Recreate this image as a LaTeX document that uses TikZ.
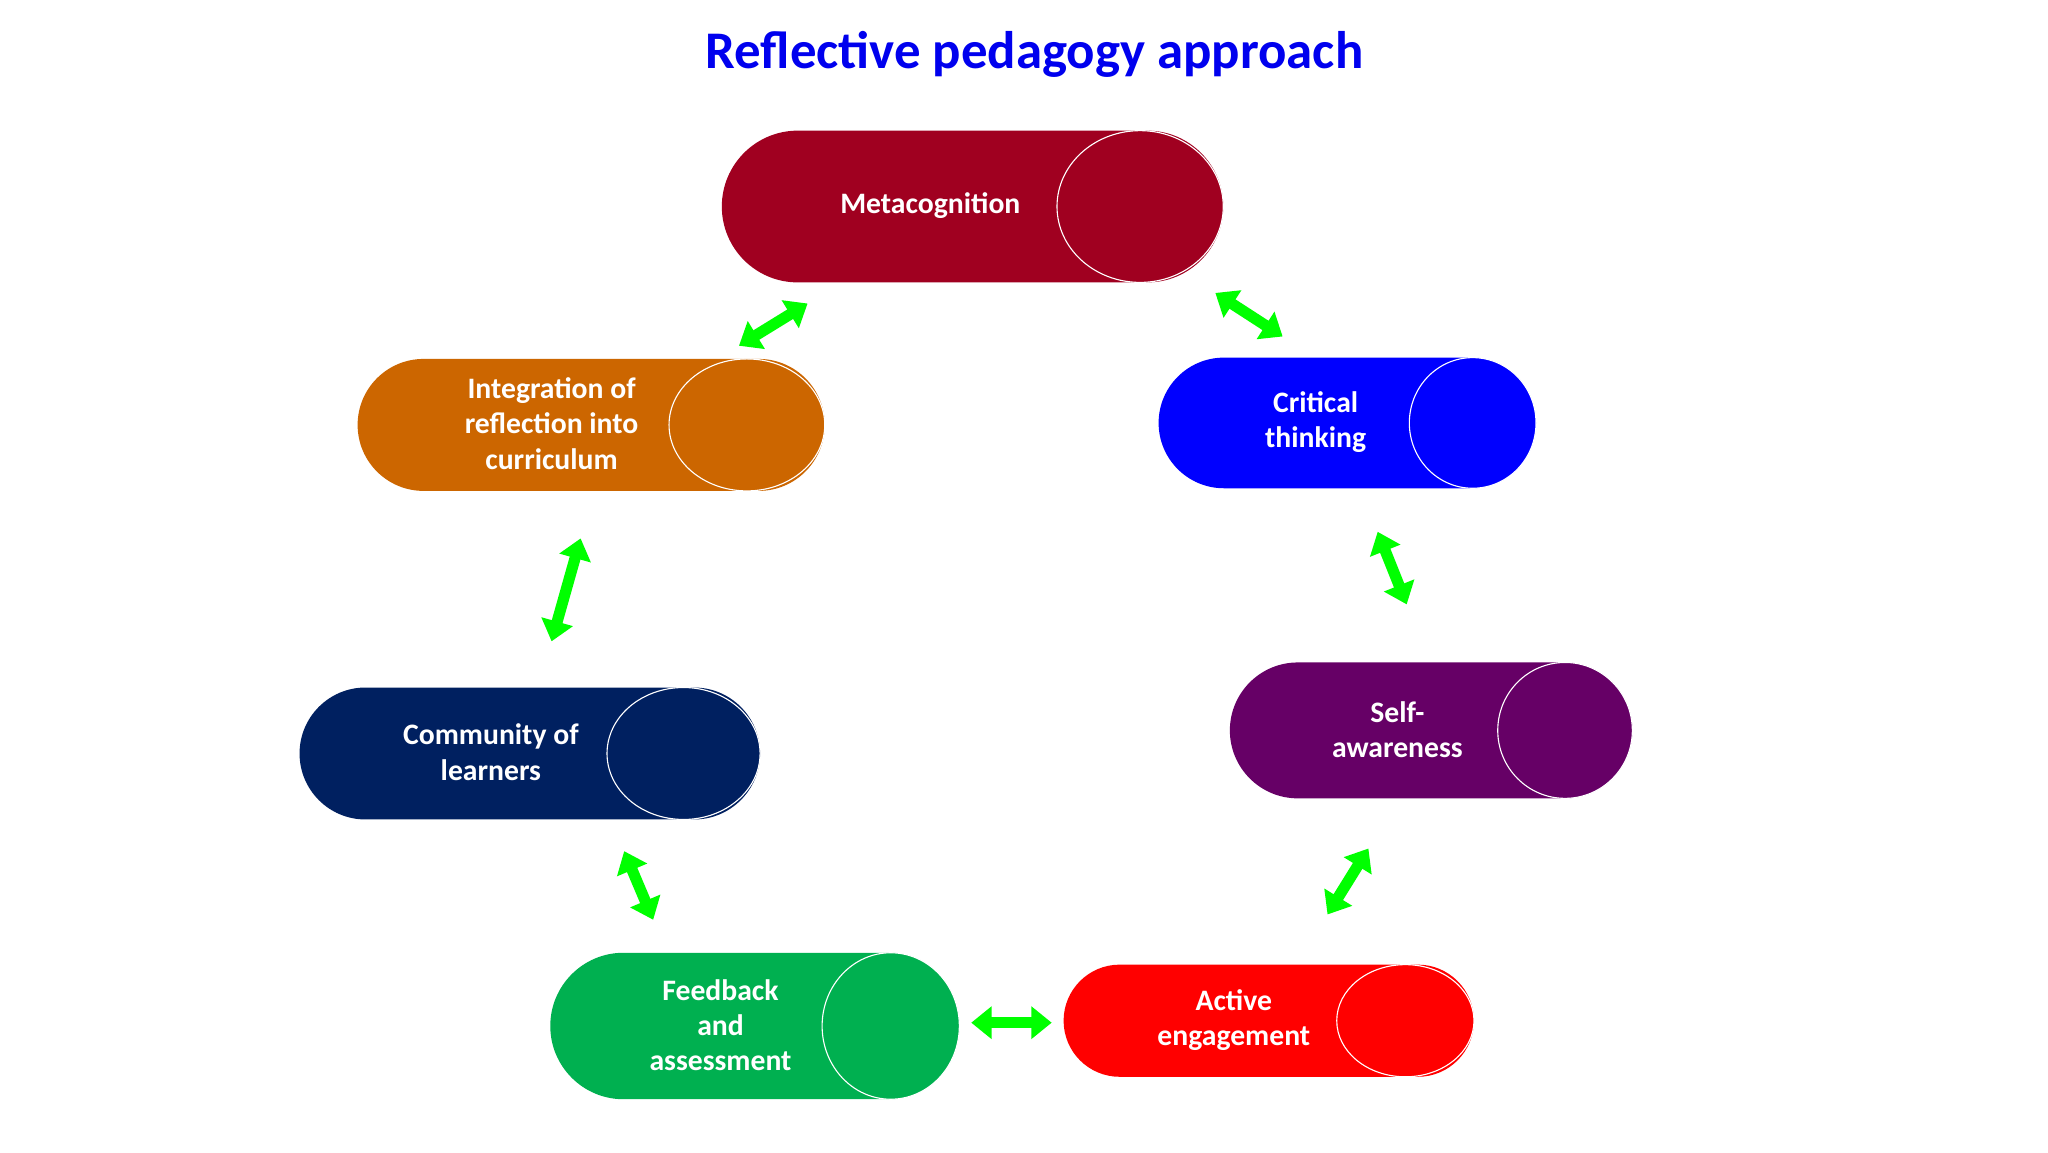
\documentclass[tikz,border=0pt]{standalone}
\usepackage{fontspec}
\setmainfont{Carlito}
\usetikzlibrary{shapes.misc,shapes.geometric,arrows.meta}
\definecolor{cMeta}{HTML}{A00020}
\definecolor{cCrit}{HTML}{0000FF}
\definecolor{cSelf}{HTML}{660066}
\definecolor{cAct}{HTML}{FF0000}
\definecolor{cFeed}{HTML}{00B050}
\definecolor{cComm}{HTML}{002060}
\definecolor{cInt}{HTML}{CC6600}
\definecolor{cArr}{HTML}{00FF00}
\definecolor{cTitle}{HTML}{0000EE}
\tikzset{
  pill/.style={rounded rectangle, inner sep=0pt, draw=none},
  endcap/.style={ellipse, inner sep=0pt, draw=white, line width=1.2pt},
  lbl/.style={text=white, font=\bfseries\fontsize{32}{38}\selectfont, align=center},
  dbl/.style={cArr, line width=12pt, {Triangle[width=34pt,length=22pt]}-{Triangle[width=34pt,length=22pt]}}
}
\newcommand{\mypill}[8]{% name, color, x1, x2, y1, y2, ecx, erx
  \node[pill, fill=#2, minimum width={(#4-#3)*0.05cm}, minimum height={(#6-#5)*0.05cm}] (#1) at ({(#3+#4)/2},{(#5+#6)/2}) {};
  \node[endcap, fill=#2, minimum width={2*#8*0.05cm}, minimum height={(#6-#5)*0.05cm}] (#1e) at (#7,{(#5+#6)/2}) {};
}
\begin{document}
\begin{tikzpicture}[x=0.05cm,y=-0.05cm]
\useasboundingbox[fill=white] (0,0) rectangle (1552,873);
\node[text=cTitle, font=\bfseries\fontsize{57}{64}\selectfont] (title) at (784,41) {Reflective pedagogy approach};
\mypill{meta}{cMeta}{547}{927}{99}{214}{864}{63}
\node[lbl] (metat) at (705,156) {Metacognition};
\mypill{crit}{cCrit}{878}{1163}{271}{370}{1116}{48}
\node[lbl] (critt) at (997,320) {Critical\\thinking};
\mypill{self}{cSelf}{932}{1237}{502}{605}{1186}{51}
\node[lbl] (selft) at (1059,553) {Self-\\awareness};
\mypill{act}{cAct}{806}{1117}{731}{816}{1065}{52}
\node[lbl] (actt) at (935,773) {Active\\engagement};
\mypill{feed}{cFeed}{417}{726}{722}{833}{675}{52}
\node[lbl] (feedt) at (546,777) {Feedback\\and\\assessment};
\mypill{comm}{cComm}{227}{576}{521}{621}{518}{58}
\node[lbl] (commt) at (372,570) {Community of\\learners};
\mypill{intg}{cInt}{271}{625}{272}{372}{566}{59}
\node[lbl] (intgt) at (418,321) {Integration of\\reflection into\\curriculum};
\coordinate (a1) at (612,230); \coordinate (b1) at (560,262);
\coordinate (a2) at (921,222); \coordinate (b2) at (972,255);
\coordinate (a3) at (440,408); \coordinate (b3) at (418,486);
\coordinate (a4) at (1044,403); \coordinate (b4) at (1066,458);
\coordinate (a5) at (473,645); \coordinate (b5) at (495,697);
\coordinate (a6) at (1037,643); \coordinate (b6) at (1006,693);
\coordinate (a7) at (736,775); \coordinate (b7) at (797,775);
\foreach \i in {1,...,7} \draw[dbl] (a\i) -- (b\i);
\end{tikzpicture}
\end{document}
